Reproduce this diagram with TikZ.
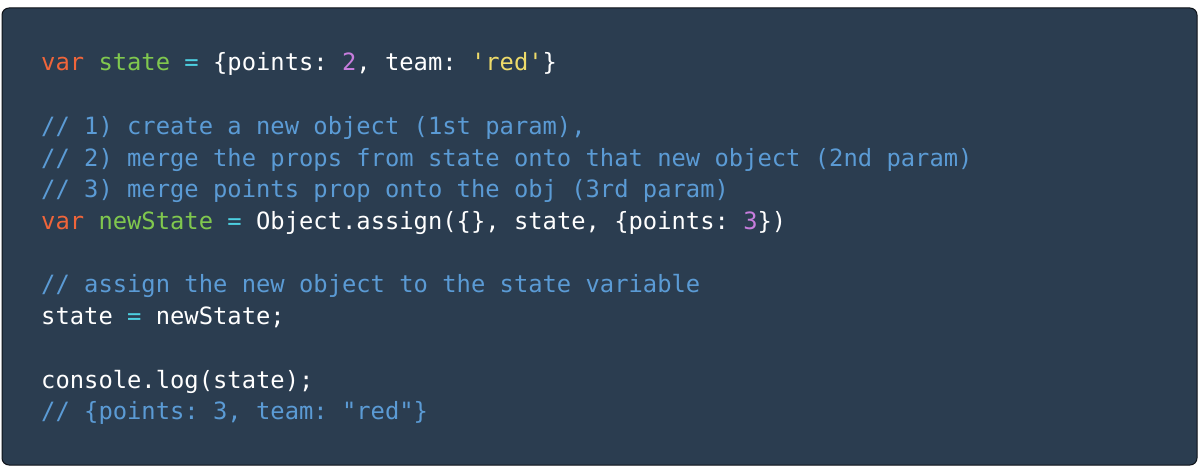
\documentclass[tikz,border=0pt]{standalone}
\usepackage{fontspec}
\setmonofont{DejaVu Sans Mono}
\definecolor{bg}{HTML}{2B3D50}
\definecolor{kw}{HTML}{F0653A}
\definecolor{vn}{HTML}{80C84E}
\definecolor{op}{HTML}{4DD0E1}
\definecolor{num}{HTML}{C77DDD}
\definecolor{str}{HTML}{EEDB6A}
\definecolor{cm}{HTML}{5B9BD5}
\newcommand{\K}[1]{\textcolor{kw}{#1}}
\newcommand{\V}[1]{\textcolor{vn}{#1}}
\newcommand{\Op}[1]{\textcolor{op}{#1}}
\newcommand{\N}[1]{\textcolor{num}{#1}}
\newcommand{\St}[1]{\textcolor{str}{#1}}
\newcommand{\Cm}[1]{\textcolor{cm}{#1}}
\begin{document}
\begin{tikzpicture}[x=1pt,y=-1pt,
  code/.style={anchor=base west,inner sep=0pt,text=white,font=\ttfamily\fontsize{23.8}{28}\selectfont}]
\useasboundingbox (0,0) rectangle (1200,473);
\fill[white] (0,0) rectangle (1200,473);
\draw[fill=bg,draw=black!70!bg,rounded corners=7pt,line width=1pt] (2,8) rectangle (1197,465);
\node[code] (l1) at (41,71) {\K{var} \V{state} \Op{=} \{points: \N{2}, team: \St{'red'}\}};
\node[code] (l2) at (41,134.4) {\Cm{// 1) create a new object (1st param),}};
\node[code] (l3) at (41,166.1) {\Cm{// 2) merge the props from state onto that new object (2nd param)}};
\node[code] (l4) at (41,197.8) {\Cm{// 3) merge points prop onto the obj (3rd param)}};
\node[code] (l5) at (41,229.5) {\K{var} \V{newState} \Op{=} Object.assign(\{\}, state, \{points: \N{3}\})};
\node[code] (l6) at (41,292.9) {\Cm{// assign the new object to the state variable}};
\node[code] (l7) at (41,324.6) {state \Op{=} newState;};
\node[code] (l8) at (41,388) {console.log(state);};
\node[code] (l9) at (41,419.7) {\Cm{// \{points: 3, team: "red"\}}};
\end{tikzpicture}
\end{document}
